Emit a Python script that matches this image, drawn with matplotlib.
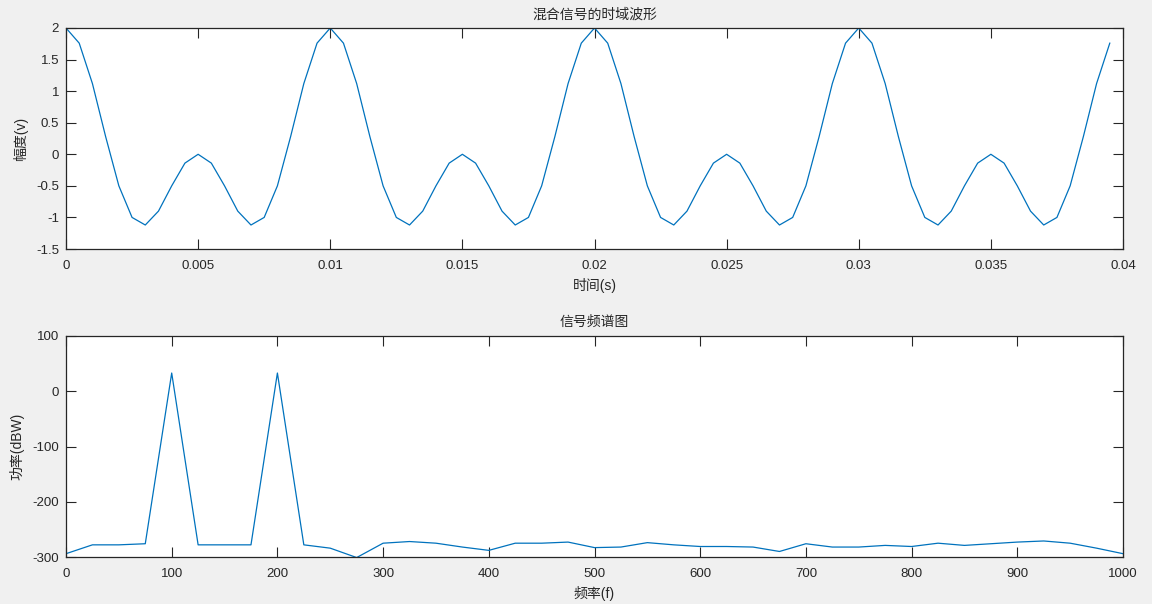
import matplotlib
matplotlib.use('Agg')
from matplotlib import pyplot as plt

plt.rcParams['font.family'] = ['Liberation Sans', 'Noto Sans CJK SC', 'DejaVu Sans']
plt.rcParams['axes.unicode_minus'] = False

# time-domain samples (every 0.0005 s)
t = [i * 0.0005 for i in range(80)]
amp = [2.00, 1.76, 1.12, 0.28, -0.50, -1.00, -1.12, -0.90, -0.50, -0.14,
       0.00, -0.14, -0.50, -0.90, -1.12, -1.00, -0.50, 0.28, 1.12, 1.76,
       2.00, 1.76, 1.12, 0.28, -0.50, -1.00, -1.12, -0.90, -0.50, -0.14,
       0.00, -0.14, -0.50, -0.90, -1.12, -1.00, -0.50, 0.28, 1.12, 1.76,
       2.00, 1.76, 1.12, 0.28, -0.50, -1.00, -1.12, -0.90, -0.50, -0.14,
       0.00, -0.14, -0.50, -0.90, -1.12, -1.00, -0.50, 0.28, 1.12, 1.76,
       2.00, 1.76, 1.12, 0.28, -0.50, -1.00, -1.12, -0.90, -0.50, -0.14,
       0.00, -0.14, -0.50, -0.90, -1.12, -1.00, -0.50, 0.28, 1.12, 1.76]

# spectrum, every 25 Hz
freq = [i * 25 for i in range(41)]
power = [-294, -278, -278, -276, 33, -278, -278, -278, 33, -278,
         -284, -301, -275, -272, -275, -282, -288, -275, -275, -273,
         -283, -282, -274, -278, -281, -281, -282, -290, -276, -282,
         -282, -279, -281, -275, -279, -276, -273, -271, -275, -284, -294]

line_c = '#0072BD'
txt_c = '#262626'

fig = plt.figure(figsize=(11.52, 6.04), dpi=100, facecolor='#f0f0f0')
ax1 = fig.add_axes([66/1152, 1-249/604, 1057/1152, 221/604])
ax2 = fig.add_axes([66/1152, 1-557/604, 1057/1152, 221/604])

def style(ax):
    for s in ax.spines.values():
        s.set_color(txt_c)
        s.set_linewidth(0.9)
    ax.tick_params(direction='in', length=7.2, width=0.8, colors=txt_c,
                   labelsize=9.5, top=True, right=True, pad=5)
    ax.tick_params(axis='x', pad=8)

ax1.plot(t, amp, color=line_c, lw=0.9)
ax1.set_xlim(0, 0.04)
ax1.set_ylim(-1.5, 2)
ax1.set_xticks([0, 0.005, 0.01, 0.015, 0.02, 0.025, 0.03, 0.035, 0.04])
ax1.set_xticklabels(['0', '0.005', '0.01', '0.015', '0.02', '0.025', '0.03', '0.035', '0.04'])
ax1.set_yticks([-1.5, -1, -0.5, 0, 0.5, 1, 1.5, 2])
ax1.set_yticklabels(['-1.5', '-1', '-0.5', '0', '0.5', '1', '1.5', '2'])
ax1.set_title('混合信号的时域波形', fontsize=10, color=txt_c, pad=7)
ax1.set_xlabel('时间(s)', fontsize=10, color=txt_c, labelpad=4)
ax1.set_ylabel('幅度(v)', fontsize=10, color=txt_c, labelpad=6)
style(ax1)

ax2.plot(freq, power, color=line_c, lw=0.9)
ax2.set_xlim(0, 1000)
ax2.set_ylim(-300, 100)
ax2.set_xticks(range(0, 1001, 100))
ax2.set_yticks([-300, -200, -100, 0, 100])
ax2.set_title('信号频谱图', fontsize=10, color=txt_c, pad=7)
ax2.set_xlabel('频率(f)', fontsize=10, color=txt_c, labelpad=4)
ax2.set_ylabel('功率(dBW)', fontsize=10, color=txt_c, labelpad=6)
style(ax2)

fig.savefig('out.png', dpi=100, facecolor=fig.get_facecolor())
